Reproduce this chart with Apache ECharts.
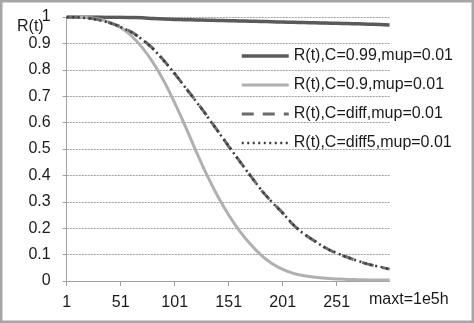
<!DOCTYPE html>
<html>
<head>
<meta charset="utf-8">
<script src="https://cdn.jsdelivr.net/npm/echarts@6/dist/echarts.min.js"></script>
<style>html,body{margin:0;padding:0;background:#fff}#c{width:474px;height:323px}</style>
</head>
<body>
<div id="c"></div>
<script>
// time index (t), read at sampled positions
var tIndex = [1,11,21,31,41,51,61,71,81,91,101,111,121,131,141,151,161,171,181,191,201,211,221,231,241,251,261,271,281,291,300];
var seriesNames = ['R(t),C=0.99,mup=0.01','R(t),C=0.9,mup=0.01','R(t),C=diff,mup=0.01','R(t),C=diff5,mup=0.01'];
var rC099 = [1.000,1.000,1.000,1.000,0.999,0.999,0.998,0.997,0.994,0.992,0.991,0.990,0.989,0.988,0.987,0.986,0.985,0.984,0.983,0.982,0.981,0.980,0.979,0.978,0.977,0.976,0.975,0.974,0.973,0.972,0.970];
var rC09  = [1.000,0.9997,0.998,0.992,0.980,0.960,0.928,0.884,0.827,0.757,0.675,0.585,0.490,0.400,0.320,0.250,0.190,0.140,0.098,0.066,0.044,0.029,0.020,0.014,0.010,0.008,0.006,0.005,0.004,0.004,0.004];
var rDiff = [1.000,0.999,0.996,0.989,0.978,0.963,0.943,0.915,0.880,0.835,0.785,0.733,0.680,0.625,0.568,0.510,0.455,0.400,0.345,0.300,0.258,0.212,0.178,0.150,0.125,0.105,0.090,0.075,0.063,0.053,0.045];
var rDiff5= [1.000,0.999,0.995,0.988,0.977,0.962,0.942,0.914,0.879,0.834,0.786,0.732,0.679,0.624,0.567,0.511,0.454,0.399,0.346,0.299,0.257,0.213,0.177,0.151,0.124,0.106,0.089,0.076,0.062,0.054,0.044];
var xTickLabels = ['1','51','101','151','201','251'];
var yTickLabels = ['0','0.1','0.2','0.3','0.4','0.5','0.6','0.7','0.8','0.9','1'];

function pts(arr){ return tIndex.map(function(t,i){ return [t-1, arr[i]]; }); }
var xTickVals = xTickLabels.map(function(s){ return Number(s)-1; });
var FONT = '"Liberation Sans", Arial, sans-serif';

var styles = [
  {color:'#5a5a5a', width:3.5, type:'solid'},
  {color:'#b0b0b0', width:3, type:'solid'},
  {color:'#6b6b6b', width:3, type:[12,9]},
  {color:'#3a3a3a', width:2.5, type:[2,3.5]}
];
var dataArr = [rC099, rC09, rDiff, rDiff5];

var chart = echarts.init(document.getElementById('c'), null, {renderer:'canvas'});
chart.setOption({
  backgroundColor:'#fff',
  animation:false,
  grid:{left:66.7, right:84.4, top:17, bottom:42},
  xAxis:{
    type:'value', min:0, max:299,
    axisLine:{show:true, lineStyle:{color:'#a0a0a0', width:1}},
    axisTick:{show:true, length:5, customValues:xTickVals, lineStyle:{color:'#a0a0a0'}},
    axisLabel:{customValues:xTickVals, margin:14, fontFamily:FONT, fontSize:16, color:'#1a1a1a',
      formatter:function(v){ return String(v+1); }},
    splitLine:{show:false}
  },
  yAxis:{
    type:'value', min:0, max:1, interval:0.1,
    axisLine:{show:true, lineStyle:{color:'#a0a0a0', width:1}},
    axisTick:{show:true, length:4, lineStyle:{color:'#a0a0a0'}},
    axisLabel:{margin:16, fontFamily:FONT, fontSize:16, color:'#1a1a1a',
      formatter:function(v){ var i=Math.round(v*10); return yTickLabels[i]; }},
    splitLine:{show:true, lineStyle:{color:'#a0a0a0', width:1, type:[2,1]}}
  },
  legend:{
    orient:'vertical', left:240, top:48, padding:0, itemGap:13,
    itemWidth:47, itemHeight:14,
    itemStyle:{opacity:0},
    textStyle:{fontFamily:FONT, fontSize:16, lineHeight:16, color:'#1a1a1a'},
    data:seriesNames.map(function(n,i){ return {name:n, lineStyle:{color:styles[i].color, width:styles[i].width, type:styles[i].type}}; })
  },
  series:seriesNames.map(function(n,i){
    return {name:n, type:'line', showSymbol:false, symbol:'none', smooth:0.35, data:pts(dataArr[i]),
      lineStyle:{color:styles[i].color, width:styles[i].width, type:styles[i].type}, itemStyle:{color:styles[i].color}};
  }),
  graphic:[
    {type:'rect', shape:{x:1.25, y:1.25, width:471.5, height:320.5}, style:{fill:null, stroke:'#a6a6a6', lineWidth:2.5}, silent:true},
    {type:'text', left:17, top:19, style:{text:'R(t)', font:'16px '+FONT, fill:'#1a1a1a'}},
    {type:'text', left:369, top:292, style:{text:'maxt=1e5h', font:'16px '+FONT, fill:'#1a1a1a'}}
  ]
});
</script>
</body>
</html>
